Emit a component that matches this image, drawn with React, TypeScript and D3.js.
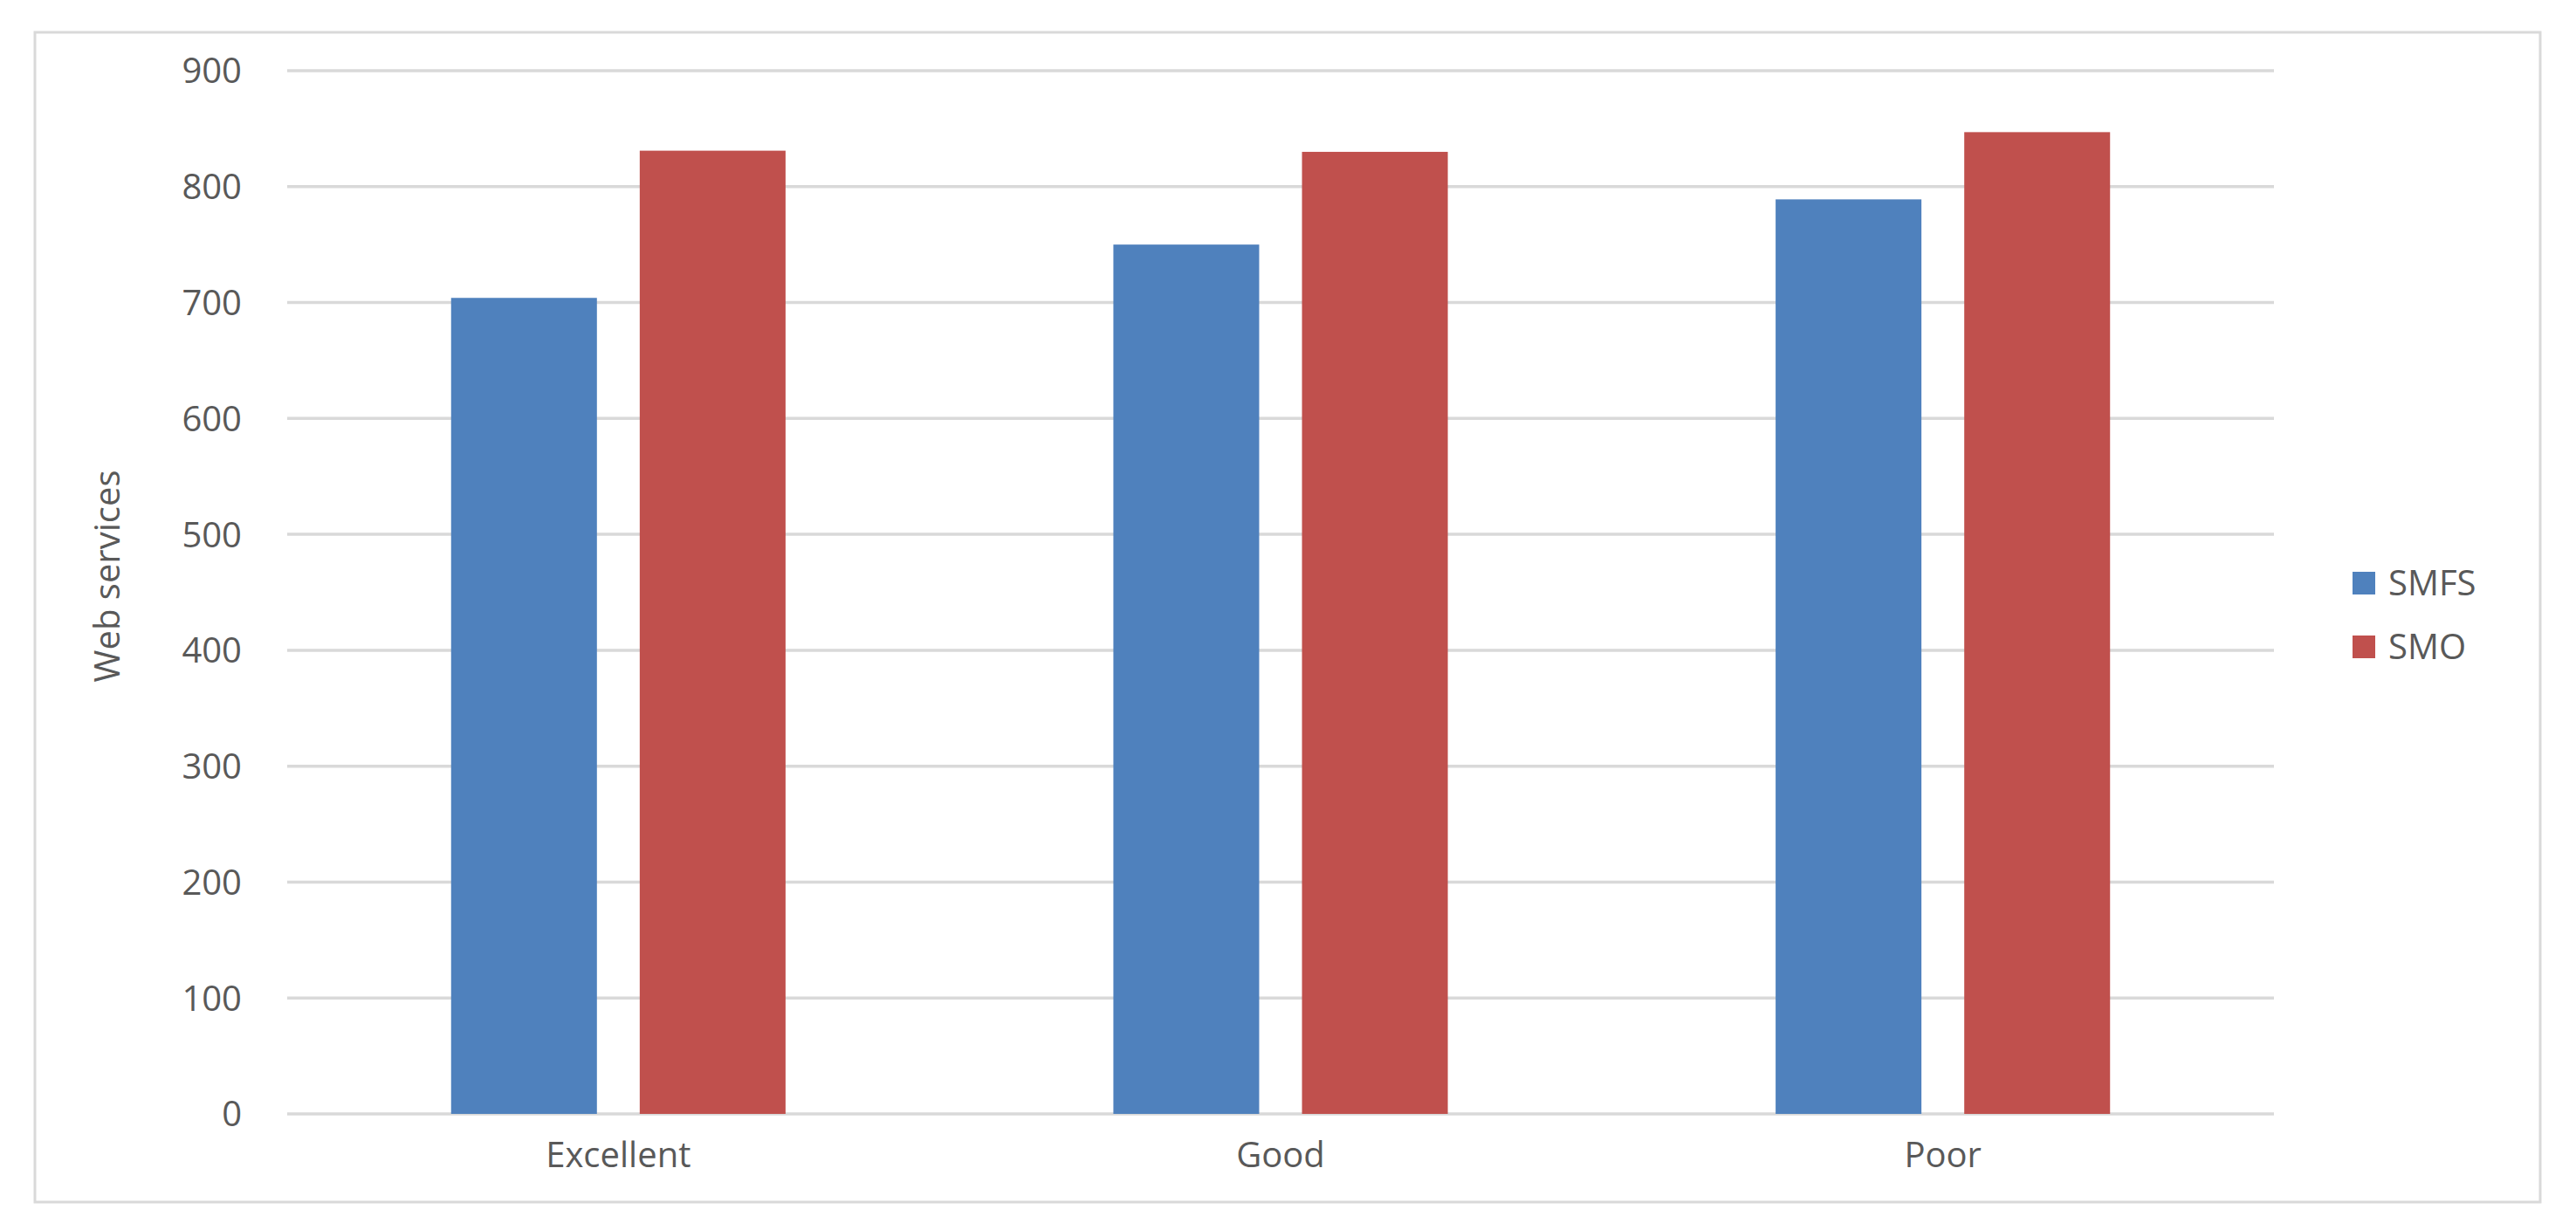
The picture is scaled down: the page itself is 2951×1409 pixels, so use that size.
import React from "react";
import * as d3 from "d3";

const categories = ["Excellent", "Good", "Poor"];
const seriesNames = ["SMFS", "SMO"];
const smfsValues = [704, 750, 789];
const smoValues = [831, 830, 847];
const yTicks = [0, 100, 200, 300, 400, 500, 600, 700, 800, 900];
const colors = ["#4F81BD", "#C0504D"];
const yLabel = "Web services";

const W = 2951;
const H = 1409;
const FONT = "'Open Sans', 'Liberation Sans', sans-serif";
const TEXT = "#595959";

export default function App() {
  const plotLeft = 329;
  const plotRight = 2605;
  const y0 = 1276;
  const y900 = 81;

  const x = d3
    .scaleBand<string>()
    .domain(categories)
    .range([plotLeft, plotRight])
    .paddingInner(0.495)
    .paddingOuter(0.2475);
  const xs = d3
    .scaleBand<string>()
    .domain(seriesNames)
    .range([0, x.bandwidth()])
    .paddingInner(0.227)
    .paddingOuter(0);
  const y = d3.scaleLinear().domain([0, 900]).range([y0, y900]);

  const series = [smfsValues, smoValues];

  return (
    <div style={{ position: "absolute", left: 0, top: 0 }}>
      <svg width={W} height={H} style={{ display: "block", background: "#fff" }}>
        <rect x={0} y={0} width={W} height={H} fill="#ffffff" />
        <rect
          x={40}
          y={37}
          width={2870}
          height={1340}
          fill="#ffffff"
          stroke="#d9d9d9"
          strokeWidth={3}
        />
        {yTicks.map((t) => (
          <g key={t}>
            <line
              x1={plotLeft}
              x2={plotRight}
              y1={y(t)}
              y2={y(t)}
              stroke="#d9d9d9"
              strokeWidth={3.5}
            />
            <text
              x={277}
              y={y(t)}
              dy="0.36em"
              textAnchor="end"
              fontFamily={FONT}
              fontSize={40}
              fill={TEXT}
            >
              {t}
            </text>
          </g>
        ))}
        {categories.map((c, i) => (
          <g key={c}>
            {series.map((vals, si) => (
              <rect
                key={si}
                x={(x(c) as number) + (xs(seriesNames[si]) as number)}
                y={y(vals[i])}
                width={xs.bandwidth()}
                height={y(0) - y(vals[i])}
                fill={colors[si]}
              />
            ))}
            <text
              x={(x(c) as number) + x.bandwidth() / 2}
              y={1337}
              textAnchor="middle"
              fontFamily={FONT}
              fontSize={40}
              fill={TEXT}
            >
              {c}
            </text>
          </g>
        ))}
        <text
          transform={`translate(123, 660) rotate(-90)`}
          textAnchor="middle"
          dy="0.36em"
          fontFamily={FONT}
          fontSize={40}
          fill={TEXT}
        >
          {yLabel}
        </text>
        {seriesNames.map((s, i) => (
          <g key={s} transform={`translate(2695, ${668 + i * 73})`}>
            <rect x={0} y={-13} width={26} height={26} fill={colors[i]} />
            <text
              x={41}
              y={0}
              dy="0.36em"
              fontFamily={FONT}
              fontSize={40}
              fill={TEXT}
            >
              {s}
            </text>
          </g>
        ))}
      </svg>
    </div>
  );
}
